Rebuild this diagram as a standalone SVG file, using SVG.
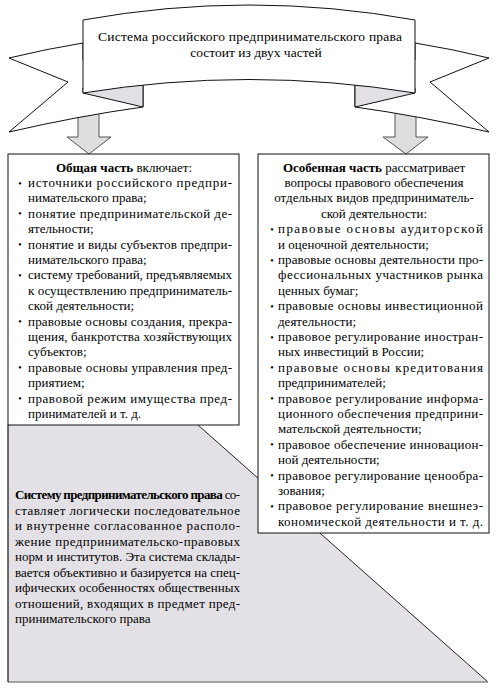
<svg xmlns="http://www.w3.org/2000/svg" width="498" height="691" viewBox="0 0 498 691" font-family="'Liberation Serif', 'DejaVu Serif', serif">
<style>
text{font-family:'Liberation Serif','DejaVu Serif',serif;font-size:13px;fill:#000}
.b{font-weight:bold}
.c{text-anchor:middle}
.t{font-size:13.5px}
.bul{font-size:10px;text-anchor:middle}
.ln{fill:#fff;stroke:#111;stroke-width:1}
.fold{fill:#e2e0e4;stroke:#111;stroke-width:1}
.arr{fill:#dedede;stroke:#555;stroke-width:1}
</style>
<defs>
<g id="wing">
<path class="ln" d="M83,43 Q46,49 9,58 L68,82 L9,132 Q78,116 143,107 L143,80 L83,60 Z"/>
<path class="fold" d="M83,93 L143,107 L143,78 L83,88 Z"/>
</g>
</defs>
<rect width="498" height="691" fill="#fff"/>

<g id="bottom-note">
<path d="M8,425 L198,425 L488,682 L8,682 Z" fill="#e3e1e5"/>
<line x1="198" y1="425" x2="488" y2="682" stroke="#222" stroke-width="1"/>
<line x1="8" y1="682" x2="488" y2="682" stroke="#888" stroke-width="1.5"/>
<line x1="8" y1="425" x2="8" y2="682" stroke="#111" stroke-width="1.2"/>
<text x="15" y="499" textLength="225" lengthAdjust="spacing"><tspan class="b">Систему предпринимательского права</tspan> со-</text>
<text x="15" y="514.5" textLength="225" lengthAdjust="spacing">ставляет логически последовательное</text>
<text x="15" y="530" textLength="225" lengthAdjust="spacing">и внутренне согласованное располо-</text>
<text x="15" y="545.5" textLength="225" lengthAdjust="spacing">жение предпринимательско-правовых</text>
<text x="15" y="561" textLength="225" lengthAdjust="spacing">норм и институтов. Эта система склады-</text>
<text x="15" y="576.5" textLength="225" lengthAdjust="spacing">вается объективно и базируется на спец-</text>
<text x="15" y="592" textLength="225" lengthAdjust="spacing">ифических особенностях общественных</text>
<text x="15" y="607.5" textLength="225" lengthAdjust="spacing">отношений, входящих в предмет пред-</text>
<text x="15" y="623">принимательского права</text>
</g>

<g id="connectors">
<polygon class="arr" points="78,110 99,110 99,137 111,137 89,154 67,137 78,137"/>
<polygon class="arr" points="395,110 416,110 416,137 428,137 406,154 383,137 395,137"/>
</g>

<g id="banner">
<use href="#wing"/>
<use href="#wing" transform="translate(498,0) scale(-1,1)"/>
<path class="ln" d="M83,20 Q249,-10 415,20 L415,93 Q249,66 83,93 Z"/>
<text class="t" x="98" y="40.5" textLength="304" lengthAdjust="spacing">Система российского предпринимательского права</text>
<text class="c t" x="256" y="56.5">состоит из двух частей</text>
</g>

<g id="general-part">
<rect class="ln" x="8" y="154" width="231" height="271" stroke-width="1.2"/>
<text class="c" x="124" y="171.5"><tspan class="b">Общая часть</tspan> включает:</text>
<text class="bul" x="20" y="186.5">•</text>
<text x="28" y="186.9" textLength="204" lengthAdjust="spacing">источники российского предпри-</text>
<text x="28" y="202.3">нимательского права;</text>
<text class="bul" x="20" y="217.3">•</text>
<text x="28" y="217.7" textLength="204" lengthAdjust="spacing">понятие предпринимательской де-</text>
<text x="28" y="233.1">ятельности;</text>
<text class="bul" x="20" y="248.1">•</text>
<text x="28" y="248.5" textLength="204" lengthAdjust="spacing">понятие и виды субъектов предпри-</text>
<text x="28" y="263.9">нимательского права;</text>
<text class="bul" x="20" y="278.9">•</text>
<text x="28" y="279.3" textLength="204" lengthAdjust="spacing">систему требований, предъявляемых</text>
<text x="28" y="294.7" textLength="204" lengthAdjust="spacing">к осуществлению предприниматель-</text>
<text x="28" y="310.1">ской деятельности;</text>
<text class="bul" x="20" y="325.1">•</text>
<text x="28" y="325.5" textLength="204" lengthAdjust="spacing">правовые основы создания, прекра-</text>
<text x="28" y="340.9" textLength="204" lengthAdjust="spacing">щения, банкротства хозяйствующих</text>
<text x="28" y="356.3">субъектов;</text>
<text class="bul" x="20" y="371.3">•</text>
<text x="28" y="371.7" textLength="204" lengthAdjust="spacing">правовые основы управления пред-</text>
<text x="28" y="387.1">приятием;</text>
<text class="bul" x="20" y="402.1">•</text>
<text x="28" y="402.5" textLength="204" lengthAdjust="spacing">правовой режим имущества пред-</text>
<text x="28" y="417.9">принимателей и т. д.</text>
</g>

<g id="special-part">
<rect class="ln" x="258" y="154" width="231" height="379" stroke-width="1.2"/>
<text class="c" x="374" y="171.5"><tspan class="b">Особенная часть</tspan> рассматривает</text>
<text class="c" x="374" y="186.9">вопросы правового обеспечения</text>
<text class="c" x="374" y="202.3">отдельных видов предприниматель-</text>
<text class="c" x="374" y="217.7">ской деятельности:</text>
<text class="bul" x="272" y="232.7">•</text>
<text x="278" y="233.1" textLength="205" lengthAdjust="spacing">правовые основы аудиторской</text>
<text x="278" y="248.5">и оценочной деятельности;</text>
<text class="bul" x="272" y="263.5">•</text>
<text x="278" y="263.9" textLength="205" lengthAdjust="spacing">правовые основы деятельности про-</text>
<text x="278" y="279.3" textLength="205" lengthAdjust="spacing">фессиональных участников рынка</text>
<text x="278" y="294.7">ценных бумаг;</text>
<text class="bul" x="272" y="309.7">•</text>
<text x="278" y="310.1" textLength="205" lengthAdjust="spacing">правовые основы инвестиционной</text>
<text x="278" y="325.5">деятельности;</text>
<text class="bul" x="272" y="340.5">•</text>
<text x="278" y="340.9" textLength="205" lengthAdjust="spacing">правовое регулирование иностран-</text>
<text x="278" y="356.3">ных инвестиций в России;</text>
<text class="bul" x="272" y="371.3">•</text>
<text x="278" y="371.7" textLength="205" lengthAdjust="spacing">правовые основы кредитования</text>
<text x="278" y="387.1">предпринимателей;</text>
<text class="bul" x="272" y="402.1">•</text>
<text x="278" y="402.5" textLength="205" lengthAdjust="spacing">правовое регулирование информа-</text>
<text x="278" y="417.9" textLength="205" lengthAdjust="spacing">ционного обеспечения предприни-</text>
<text x="278" y="433.3">мательской деятельности;</text>
<text class="bul" x="272" y="448.3">•</text>
<text x="278" y="448.7" textLength="205" lengthAdjust="spacing">правовое обеспечение инновацион-</text>
<text x="278" y="464.1">ной деятельности;</text>
<text class="bul" x="272" y="479.1">•</text>
<text x="278" y="479.5" textLength="205" lengthAdjust="spacing">правовое регулирование ценообра-</text>
<text x="278" y="494.9">зования;</text>
<text class="bul" x="272" y="509.9">•</text>
<text x="278" y="510.3" textLength="205" lengthAdjust="spacing">правовое регулирование внешнеэ-</text>
<text x="278" y="525.7" textLength="205" lengthAdjust="spacing">кономической деятельности и т. д.</text>
</g>
</svg>
